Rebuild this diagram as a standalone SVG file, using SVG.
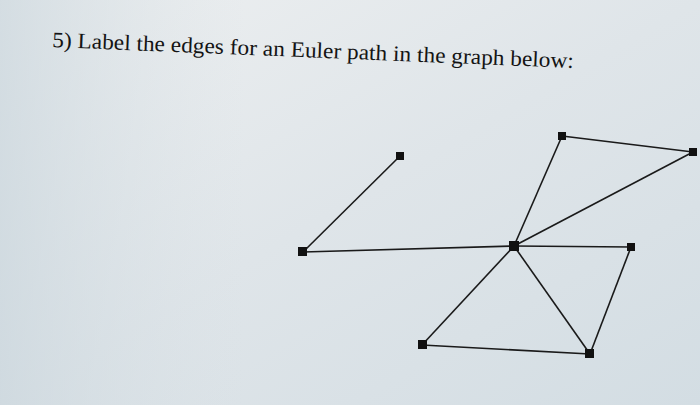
<svg xmlns="http://www.w3.org/2000/svg" width="700" height="405" viewBox="0 0 700 405">
<defs>
<linearGradient id="bg" x1="0" y1="0" x2="1" y2="1">
<stop offset="0" stop-color="#eef0f1"/>
<stop offset="0.5" stop-color="#dfe5e9"/>
<stop offset="1" stop-color="#d3dde3"/>
</linearGradient>
<linearGradient id="bg2" x1="0" y1="0" x2="1" y2="0">
<stop offset="0" stop-color="#c9d5dc" stop-opacity="0.7"/>
<stop offset="0.35" stop-color="#d5dee3" stop-opacity="0"/>
</linearGradient>
</defs>
<style>
.edge{stroke:#1a1a1a;stroke-width:1.6;fill:none}
.node{fill:#111}
.q{font-family:"Liberation Serif",serif;font-size:22px;fill:#141414}
</style>
<rect width="700" height="405" fill="url(#bg)"/>
<rect width="700" height="405" fill="url(#bg2)"/>
<text class="q" x="52" y="47" transform="rotate(2.3 52 47)" textLength="522" lengthAdjust="spacingAndGlyphs">5) Label the edges for an Euler path in the graph below:</text>
<g id="edges">
<line class="edge" x1="400" y1="156" x2="303" y2="252"/>
<line class="edge" x1="303" y1="252" x2="514" y2="246"/>
<line class="edge" x1="514" y1="246" x2="562" y2="136"/>
<line class="edge" x1="562" y1="136" x2="693" y2="152"/>
<line class="edge" x1="693" y1="152" x2="514" y2="246"/>
<line class="edge" x1="514" y1="246" x2="631" y2="247"/>
<line class="edge" x1="631" y1="247" x2="590" y2="354"/>
<line class="edge" x1="514" y1="246" x2="590" y2="354"/>
<line class="edge" x1="514" y1="246" x2="422" y2="345"/>
<line class="edge" x1="422" y1="345" x2="590" y2="354"/>
</g>
<g id="nA"><rect class="node" x="396" y="152" width="8" height="8"/></g>
<g id="nB"><rect class="node" x="298" y="247" width="9" height="9"/></g>
<g id="nC"><rect class="node" x="509" y="241" width="10" height="10"/></g>
<g id="nD"><rect class="node" x="558" y="132" width="8" height="8"/></g>
<g id="nE"><rect class="node" x="689" y="148" width="8" height="8"/></g>
<g id="nF"><rect class="node" x="627" y="243" width="8" height="8"/></g>
<g id="nG"><rect class="node" x="418" y="340" width="9" height="9"/></g>
<g id="nH"><rect class="node" x="585" y="349" width="9" height="9"/></g>
</svg>
